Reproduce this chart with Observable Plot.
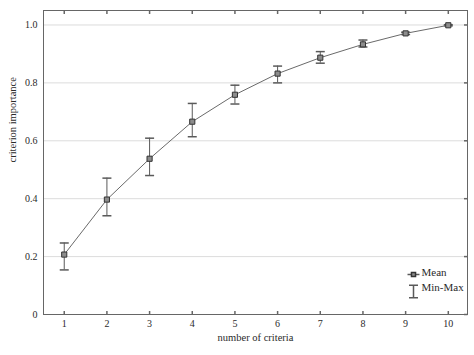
<!DOCTYPE html>
<html>
<head>
<meta charset="utf-8">
<script src="https://cdn.jsdelivr.net/npm/d3@7"></script>
<script src="https://cdn.jsdelivr.net/npm/@observablehq/plot@0.6"></script>
<style>
  html, body { margin: 0; padding: 0; background: #fff; }
  svg { display: block; }
</style>
</head>
<body>
<div id="chart"></div>
<script>
// Data
const criteria = [1, 2, 3, 4, 5, 6, 7, 8, 9, 10];
const means = [0.207, 0.397, 0.538, 0.666, 0.759, 0.832, 0.887, 0.933, 0.971, 0.999];
const mins  = [0.154, 0.341, 0.480, 0.614, 0.727, 0.800, 0.868, 0.924, 0.967, 0.997];
const maxs  = [0.247, 0.471, 0.609, 0.729, 0.792, 0.858, 0.908, 0.948, 0.975, 1.001];
const xTicks = [1, 2, 3, 4, 5, 6, 7, 8, 9, 10];
const yTicks = [0, 0.2, 0.4, 0.6, 0.8, 1.0];
const xLabel = "number of criteria";
const yLabel = "criterion importance";
const legendMean = "Mean";
const legendRange = "Min-Max";

const data = criteria.map((c, i) => ({ c, mean: means[i], min: mins[i], max: maxs[i] }));

// Custom symbols
const tickUp = { draw(ctx) { ctx.moveTo(0, 0); ctx.lineTo(0, -3.5); } };
const tickDown = { draw(ctx) { ctx.moveTo(0, 0); ctx.lineTo(0, 3.5); } };
const tickLeft = { draw(ctx) { ctx.moveTo(0, 0); ctx.lineTo(-3.5, 0); } };
const cap = { draw(ctx) { ctx.moveTo(-4.5, 0); ctx.lineTo(4.5, 0); } };
const dash = { draw(ctx) { ctx.moveTo(-6, 0); ctx.lineTo(6, 0); } };
const ibeam = { draw(ctx) {
  ctx.moveTo(-4.5, -6.3); ctx.lineTo(4.5, -6.3);
  ctx.moveTo(0, -6.3); ctx.lineTo(0, 6.3);
  ctx.moveTo(-4.5, 6.3); ctx.lineTo(4.5, 6.3);
} };

const ink = "#5a5a5a";

const chart = Plot.plot({
  width: 474,
  height: 355,
  marginLeft: 43,
  marginRight: 7,
  marginTop: 10,
  marginBottom: 41,
  x: { domain: [0.514, 10.45] },
  y: { domain: [0, 1.05] },
  style: { fontFamily: "'Liberation Serif', 'DejaVu Serif', serif", fontSize: "10px", color: "#2a2a2a", background: "#fff" },
  marks: [
    Plot.gridY(yTicks.filter(d => d > 0), { stroke: "#dcdcdc", strokeOpacity: 1 }),
    Plot.frame({ stroke: "#666" }),
    // inward ticks
    Plot.dot(xTicks, { x: d => d, frameAnchor: "bottom", symbol: tickUp, stroke: "#666", r: 3 }),
    Plot.dot(xTicks, { x: d => d, frameAnchor: "top", symbol: tickDown, stroke: "#666", r: 3 }),
    Plot.dot(yTicks, { y: d => d, frameAnchor: "right", symbol: tickLeft, stroke: "#666", r: 3 }),
    Plot.axisX({ ticks: xTicks, tickSize: 0, tickPadding: 5, label: null, tickFormat: d => String(d) }),
    Plot.axisY({ ticks: yTicks, tickSize: 0, tickPadding: 6, label: null, tickFormat: d => d === 0 ? "0" : d.toFixed(1) }),
    // error bars
    Plot.ruleX(data, { x: "c", y1: "min", y2: "max", stroke: ink, strokeWidth: 1 }),
    Plot.dot(data, { x: "c", y: "max", symbol: cap, stroke: ink, r: 3 }),
    Plot.dot(data, { x: "c", y: "min", symbol: cap, stroke: ink, r: 3 }),
    // mean line and markers
    Plot.line(data, { x: "c", y: "mean", stroke: "#6a6a6a", strokeWidth: 1 }),
    Plot.dot(data, { x: "c", y: "mean", symbol: "square", r: 2.9, fill: "#8c8c8c", stroke: "#333", strokeWidth: 1 }),
    // axis titles
    Plot.text([yLabel], { text: d => d, frameAnchor: "left", dx: -31, rotate: -90, fontSize: 10.5 }),
    Plot.text([xLabel], { text: d => d, frameAnchor: "bottom", dy: 26, fontSize: 10.5 }),
    // legend
    Plot.dot([legendMean], { frameAnchor: "bottom-right", dx: -54, dy: -40, symbol: dash, stroke: ink, r: 3 }),
    Plot.dot([legendMean], { frameAnchor: "bottom-right", dx: -54, dy: -40, symbol: "square", r: 2.3, fill: "#8c8c8c", stroke: "#333" }),
    Plot.text([legendMean], { text: d => d, frameAnchor: "bottom-right", dx: -46, dy: -39, textAnchor: "start", fontSize: 11 }),
    Plot.dot([legendRange], { frameAnchor: "bottom-right", dx: -54, dy: -23, symbol: ibeam, stroke: ink, r: 3 }),
    Plot.text([legendRange], { text: d => d, frameAnchor: "bottom-right", dx: -46, dy: -24, textAnchor: "start", fontSize: 11 })
  ]
});

document.getElementById("chart").append(chart);
</script>
</body>
</html>
